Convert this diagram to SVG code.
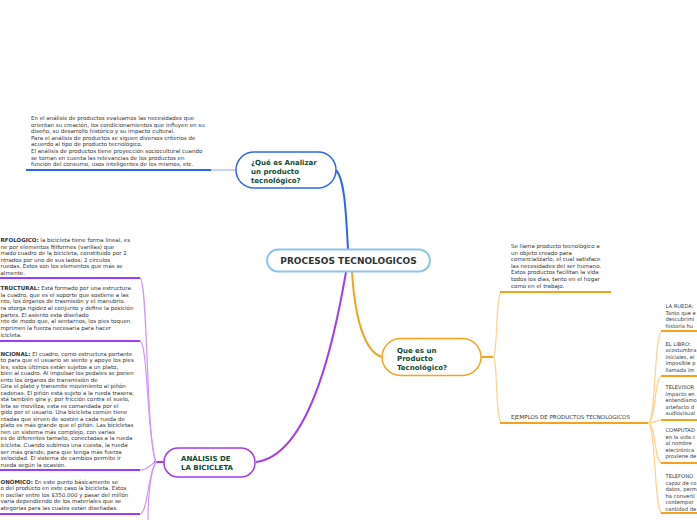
<svg xmlns="http://www.w3.org/2000/svg" width="697" height="520" viewBox="0 0 697 520">
<style>
.t{font-family:"DejaVu Sans","Liberation Sans",sans-serif;font-size:5.5px;fill:#333}
.r{font-family:"DejaVu Sans","Liberation Sans",sans-serif;font-size:5.2px;fill:#333}
.b{font-weight:bold}
.nt{font-family:"DejaVu Sans","Liberation Sans",sans-serif;font-size:7px;font-weight:bold;fill:#0d4a34}
.ct{font-family:"DejaVu Sans","Liberation Sans",sans-serif;font-size:9px;font-weight:bold;fill:#333}
.blue{fill:none;stroke:#2f66f0;stroke-width:2}
.bluel{fill:none;stroke:#9db8ff;stroke-width:1.2}
.pur{fill:none;stroke:#a23cf0;stroke-width:2}
.purl{fill:none;stroke:#cf95fb;stroke-width:1.2}
.org{fill:none;stroke:#f7a21c;stroke-width:2}
.orgl{fill:none;stroke:#ffd38f;stroke-width:1.2}
</style>
<rect width="697" height="520" fill="#fff"/>
<g id="connectors">
<path class="blue" d="M348,249 C346,215 345,180 336,170"/>
<path class="bluel" d="M236,170 L211,170"/>
<path class="blue" d="M26,170 L211,170"/>
<path class="pur" d="M346,272 C336,330 312,455 256,462"/>
<path class="pur" d="M164,462 L154,462"/>
<path class="purl" d="M140,278 C148,280 146,440 156,462"/>
<path class="purl" d="M140,341 C148,343 147,440 156,462"/>
<path class="purl" d="M140,470 C148,470 150,464 156,462"/>
<path class="purl" d="M140,514 C148,512 148,472 156,462"/>
<path class="purl" d="M156,462 C150,472 148,500 148,520"/>
<path class="pur" d="M0,278 L140,278"/>
<path class="pur" d="M0,341 L140,341"/>
<path class="pur" d="M0,470 L140,470"/>
<path class="pur" d="M0,514 L140,514"/>
<path class="org" d="M352,272 C355,320 365,352 382,357"/>
<path class="org" d="M481,357 L493,357"/>
<path class="orgl" d="M493,357 C498,357 495,292 502,292"/>
<path class="orgl" d="M493,357 C498,357 495,423 502,423"/>
<path class="org" d="M500,292 L611,292"/>
<path class="org" d="M500,423 L648,423"/>
<path class="orgl" d="M648,423 C656,423 654,331 662,331"/>
<path class="orgl" d="M648,423 C656,423 654,376 662,376"/>
<path class="orgl" d="M648,423 C655,423 656,420 662,420"/>
<path class="orgl" d="M648,423 C656,423 654,463 662,463"/>
<path class="orgl" d="M648,423 C656,423 654,513 662,513"/>
<path class="org" d="M661,331 L697,331"/>
<path class="org" d="M661,376 L697,376"/>
<path class="org" d="M661,420 L697,420"/>
<path class="org" d="M661,463 L697,463"/>
<path class="org" d="M661,513 L697,513"/>
</g>
<g id="node-center">
<rect x="267" y="249.5" width="163" height="22" rx="11" fill="#fff" stroke="#8ec3ea" stroke-width="2"/>
<text class="ct" x="348.5" y="264" text-anchor="middle">PROCESOS TECNOLOGICOS</text>
</g>
<g id="node-analizar">
<rect x="236" y="152" width="100" height="36" rx="18" fill="#fff" stroke="#2f66f0" stroke-width="1.5"/>
<text class="nt" x="251" y="164.5">¿Qué es Analizar</text>
<text class="nt" x="251" y="173.5">un producto</text>
<text class="nt" x="251" y="182.5">tecnológico?</text>
</g>
<g id="text-analizar" class="t">
<text x="31" y="120">En el análisis de productos evaluamos las necesidades que</text>
<text x="31" y="126.6">orientan su creación, los condicionamientos que influyen en su</text>
<text x="31" y="133.2">diseño, su desarrollo histórico y su impacto cultural.</text>
<text x="31" y="139.8">Para el análisis de productos se siguen diversos criterios de</text>
<text x="31" y="146.4">acuerdo al tipo de producto tecnológico.</text>
<text x="31" y="153">El análisis de productos tiene proyección sociocultural cuando</text>
<text x="31" y="159.6">se toman en cuenta las relevancias de los productos en</text>
<text x="31" y="166.2">función del consumo, usos inteligentes de los mismos, etc.</text>
</g>
<g id="node-bicicleta">
<rect x="164" y="448" width="91" height="29" rx="14" fill="#fff" stroke="#a23cf0" stroke-width="1.5"/>
<text class="nt" x="181" y="461">ANÁLISIS  DE</text>
<text class="nt" x="181" y="469.5">LA BICICLETA</text>
</g>
<g id="text-morfologico" class="t">
<text x="0.5" y="242"><tspan class="b">RFOLÓGICO:</tspan> la bicicleta tiene forma lineal, es</text>
<text x="0.5" y="248.5">ne por elementos filiformes (varillas) que</text>
<text x="0.5" y="255">mado cuadro de la bicicleta, constituido por 2</text>
<text x="0.5" y="261.5">ntrados por uno de sus lados; 2 círculos</text>
<text x="0.5" y="268">ruedas. Estos son los elementos que más se</text>
<text x="0.5" y="274.5">almente.</text>
</g>
<g id="text-estructural" class="t">
<text x="0.5" y="290"><tspan class="b">TRUCTURAL:</tspan> Está formado por una estructura</text>
<text x="0.5" y="296.7">la cuadro, que es el soporte que sostiene a las</text>
<text x="0.5" y="303.4">nto, los órganos de trasmisión y el manubrio.</text>
<text x="0.5" y="310">ra otorga rigidez al conjunto y define la posición</text>
<text x="0.5" y="316.7">partes. El asiento esta   diseñado</text>
<text x="0.5" y="323.4">nte de modo que, al sentarnos, los pies toquen</text>
<text x="0.5" y="330">mprimen la fuerza necesaria para hacer</text>
<text x="0.5" y="336.7">icicleta.</text>
</g>
<g id="text-funcional" class="t">
<text x="0.5" y="355.5"><tspan class="b">NCIONAL:</tspan> El cuadro, como estructura portante</text>
<text x="0.5" y="362">to para que el usuario se siente y apoye los pies</text>
<text x="0.5" y="368.6">les; estos últimos están sujetos a un plato,</text>
<text x="0.5" y="375.1">bién al cuadro. Al impulsar los pedales se ponen</text>
<text x="0.5" y="381.6">ento los órganos de transmisión de</text>
<text x="0.5" y="388.2">Gira el plato y transmite movimiento al piñón</text>
<text x="0.5" y="394.7">cadenas. El piñón está sujeto a la rueda trasera;</text>
<text x="0.5" y="401.2">stá también gira y, por fricción contra el suelo,</text>
<text x="0.5" y="407.7">leta se moviliza; esta es comandada por el</text>
<text x="0.5" y="414.3">gido por el usuario. Una bicicleta común tiene</text>
<text x="0.5" y="420.8">ntadas que sirven de sostén a cada rueda de</text>
<text x="0.5" y="427.3">plato es más grande que el piñón. Las bicicletas</text>
<text x="0.5" y="433.9">nen un sistema más complejo, con varias</text>
<text x="0.5" y="440.4">es de diferentes tamaño, conectadas a la rueda</text>
<text x="0.5" y="446.9">icicleta. Cuando subimos una cuesta, la rueda</text>
<text x="0.5" y="453.5">ser más grande, para que tenga más fuerza</text>
<text x="0.5" y="460">velocidad. El sistema de cambios permite ir</text>
<text x="0.5" y="466.5">rueda según la ocasión.</text>
</g>
<g id="text-ergonomico" class="t">
<text x="0.5" y="484"><tspan class="b">ONÓMICO:</tspan> En este punto básicamente se</text>
<text x="0.5" y="490.4">o del producto en este caso la bicicleta. Estos</text>
<text x="0.5" y="496.8">n oscilar entre los $350.000 y pasar del millón</text>
<text x="0.5" y="503.2"> varía dependiendo de los materiales que se</text>
<text x="0.5" y="509.6">ategorías para las cuales están diseñadas.</text>
</g>
<g id="node-producto">
<rect x="382" y="338.5" width="99" height="37" rx="18.5" fill="#fff" stroke="#f7a21c" stroke-width="1.5"/>
<text class="nt" x="397" y="352.5">Que es un</text>
<text class="nt" x="397" y="361">Producto</text>
<text class="nt" x="397" y="369.5">Tecnológico?</text>
</g>
<g id="text-se-llama" class="t">
<text x="511" y="248">Se llama producto tecnológico a</text>
<text x="511" y="254.6">un objeto creado para</text>
<text x="511" y="261.2">comercializarlo, el cual satisface</text>
<text x="511" y="267.8">las necesidades del ser humano.</text>
<text x="511" y="274.4">Estos productos facilitan la vida</text>
<text x="511" y="281">todos los días, tanto en el hogar</text>
<text x="511" y="287.6">como en el trabajo.</text>
</g>
<g id="text-ejemplos" class="t">
<text x="511" y="419">EJEMPLOS DE PRODUCTOS TECNOLÓGICOS</text>
</g>
<g id="text-rueda" class="r">
<text x="665.5" y="308">LA RUEDA:</text>
<text x="665.5" y="314.5">Tanto que e</text>
<text x="665.5" y="321">descubrimi</text>
<text x="665.5" y="327.5">historia hu</text>
</g>
<g id="text-libro" class="r">
<text x="665.5" y="345.5">EL LIBRO:</text>
<text x="665.5" y="352">acostumbra</text>
<text x="665.5" y="358.5">iniciales, el</text>
<text x="665.5" y="365">imposible p</text>
<text x="665.5" y="371.5">llamada im</text>
</g>
<g id="text-televisor" class="r">
<text x="665.5" y="389">TELEVISOR</text>
<text x="665.5" y="395.5">impacto en</text>
<text x="665.5" y="402">entendíamo</text>
<text x="665.5" y="408.5">artefacto d</text>
<text x="665.5" y="415">audiovisual</text>
</g>
<g id="text-computadora" class="r">
<text x="665.5" y="432">COMPUTAD</text>
<text x="665.5" y="438.5">en la vida c</text>
<text x="665.5" y="445">al nombre</text>
<text x="665.5" y="451.5">electrónica</text>
<text x="665.5" y="458">proviene de</text>
</g>
<g id="text-telefono" class="r">
<text x="665.5" y="478">TELEFONO</text>
<text x="665.5" y="484.5">capaz de co</text>
<text x="665.5" y="491">datos, perm</text>
<text x="665.5" y="497.5">ha converti</text>
<text x="665.5" y="504">contempor</text>
<text x="665.5" y="510.5">cantidad de</text>
</g>
</svg>
